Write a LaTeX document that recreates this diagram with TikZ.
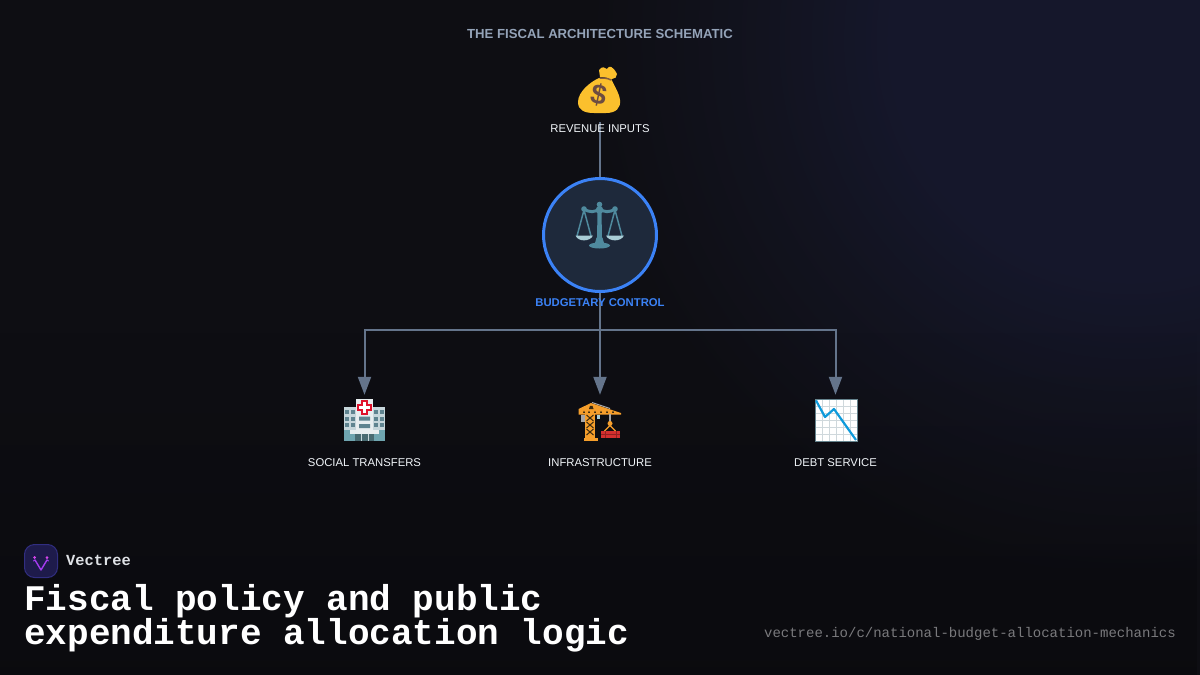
\documentclass[tikz,border=0pt]{standalone}
\usepackage{fontspec}
\setmainfont{Liberation Sans}
\newfontfamily\monof{Liberation Mono}
\usetikzlibrary{arrows.meta,fadings,calc}
\definecolor{bgbase}{HTML}{0E0E13}
\definecolor{glowA}{HTML}{15172B}
\definecolor{glowB}{HTML}{12131F}
\definecolor{edgec}{HTML}{64748B}
\definecolor{ctrlblue}{HTML}{3B82F6}
\definecolor{ctrlfill}{HTML}{1E293B}
\definecolor{titlec}{HTML}{94A3B8}
\definecolor{labelc}{HTML}{F1F5F9}
\definecolor{bag}{HTML}{FBC02D}
\definecolor{bagd}{HTML}{6D4C41}
\definecolor{scalec}{HTML}{4F8A9E}
\definecolor{scalel}{HTML}{A9CDD6}
\definecolor{crane}{HTML}{F59E2B}
\definecolor{craned}{HTML}{3A2A10}
\definecolor{loadred}{HTML}{D32F2F}
\definecolor{hospw}{HTML}{E8EEF0}
\definecolor{hospg}{HTML}{C6D6DB}
\definecolor{hospt}{HTML}{6FA5B0}
\definecolor{hospwin}{HTML}{5F8490}
\definecolor{crossr}{HTML}{E0112B}
\definecolor{chartg}{HTML}{CFD8DC}
\definecolor{chartb}{HTML}{0E9ADB}
\definecolor{logof}{HTML}{1E1B4B}
\definecolor{logos}{HTML}{312E81}
\definecolor{logop}{HTML}{A33BEF}
\definecolor{logod}{HTML}{D946EF}
\pgfdeclareradialshading{bgglow}{\pgfpoint{0bp}{0bp}}{color(0bp)=(glowA); color(11bp)=(glowA); color(17bp)=(glowB); color(25bp)=(bgbase); color(50bp)=(bgbase)}
\pgfdeclarelayer{bg}
\pgfdeclarelayer{edges}
\pgfsetlayers{bg,edges,main}
\tikzset{
  lbl/.style={font=\fontsize{11.3}{12}\selectfont,text=labelc,inner sep=2pt,text height=8pt,text depth=0pt},
  iconbox/.style={minimum size=50pt,inner sep=0pt},
  edgeline/.style={draw=edgec,line width=2pt},
  arrowed/.style={edgeline,-{Triangle[length=18pt,width=13pt,fill=edgec]}},
  ctrlnode/.style={circle,draw=ctrlblue,fill=ctrlfill,line width=3pt,minimum size=113pt,inner sep=0pt}
}
\begin{document}
\begin{tikzpicture}[x=1pt,y=-1pt]
\useasboundingbox (0,0) rectangle (1200,675);
\begin{pgfonlayer}{bg}
  \fill[bgbase] (0,0) rectangle (1200,675);
  \begin{scope}
    \clip (0,0) rectangle (1200,675);
    \shade[shading=bgglow] (1130,40) circle (540);
    \fill[black,fill opacity=0.22,path fading=north] (0,330) rectangle (1200,675);
  \end{scope}
\end{pgfonlayer}

% title
\node[font=\fontsize{13.15}{15}\selectfont\bfseries,text=titlec,inner sep=0pt] (title) at (600,34) {THE FISCAL ARCHITECTURE SCHEMATIC};

% nodes
\node[lbl] (revlabel) at (600,128) {REVENUE INPUTS};
\node[ctrlnode] (ctrl) at (600,235) {};
\node[lbl,text=ctrlblue,font=\fontsize{11.3}{12}\selectfont\bfseries] (ctrllabel) at (600,302) {BUDGETARY CONTROL};
\node[iconbox] (socialicon) at (364.5,420) {};
\node[iconbox] (infraicon) at (600,420) {};
\node[iconbox] (debticon) at (835.5,420) {};
\node[lbl] (sociallabel) at (364.5,462) {SOCIAL TRANSFERS};
\node[lbl] (infralabel) at (600,462) {INFRASTRUCTURE};
\node[lbl] (debtlabel) at (835.5,462) {DEBT SERVICE};
\coordinate (hub) at (600,329.5);

% connectors
\begin{pgfonlayer}{edges}
  \draw[edgeline] (revlabel.north) -- (ctrl.center);
  \draw[edgeline] (ctrl.center) -- (hub);
  \draw[arrowed] (hub) -| (socialicon.north);
  \draw[arrowed] (hub) -- (infraicon.north);
  \draw[arrowed] (hub) -| (debticon.north);
\end{pgfonlayer}

% money bag
\fill[bag] (599,78) .. controls (590,82) and (578,92) .. (578,102) .. controls (578,110) and (584,113) .. (594,113) -- (606,113) .. controls (616,113) and (621,108) .. (620,100) .. controls (619,92) and (613,84) .. (611,78) -- cycle;
\fill[bag] (599,70) .. controls (602,66) and (605,67) .. (607,69) .. controls (609,65) and (613,66) .. (617,74) .. controls (617,77) and (615,79) .. (612,79) .. controls (608,78) and (604,77) .. (600,77) -- cycle;
\draw[bagd!85!bag,line width=1.5pt,line cap=round] (600,78) .. controls (603,78) and (608,78) .. (611,80);
\node[font=\fontsize{28}{28}\selectfont\bfseries,text=bagd,rotate=-12,inner sep=0pt] (dollar) at (598.7,95) {\$};

% scales
\begin{scope}[line cap=round,line join=round]
  \draw[scalec,line width=1.5pt] (584,210) -- (577,236) (584,210) -- (591,236);
  \draw[scalec,line width=1.5pt] (615,210) -- (608,236) (615,210) -- (622,236);
  \draw[scalec,line width=3pt] (584,209) .. controls (590,213) and (595,212) .. (599.5,209) .. controls (604,212) and (609,213) .. (615,209);
  \fill[scalec] (584,209) circle (2.8) (615,209) circle (2.8) (599.5,204.5) circle (2.8) (599.5,210) circle (3.8);
  \fill[scalec] (597.5,207) -- (601.5,207) -- (602,243) -- (597,243) -- cycle;
  \fill[scalec] (599.5,245.5) ellipse (10.5 and 3);
  \fill[scalec] (594.5,245) -- (604.5,245) -- (602.5,237.5) -- (596.5,237.5) -- cycle;
  \fill[scalel] (575.5,235.5) .. controls (578,242) and (590,242) .. (593,235.5) -- cycle;
  \fill[scalel] (606,235.5) .. controls (609,242) and (621,242) .. (624,235.5) -- cycle;
\end{scope}

% hospital
\fill[hospg] (344,407) rectangle (385,441);
\fill[hospt] (344,430) rectangle (385,441);
\fill[hospw] (356,399) rectangle (373,430);
\fill[hospw] (350,430) rectangle (378.5,433.5);
\fill[hospt!65!black] (355,433.5) rectangle (373.5,441);
\draw[hospg,line width=1pt] (361,433.5) -- (361,441) (368,433.5) -- (368,441);
\foreach \wx in {345,351}{\foreach \wy in {410,416.7,423.3}{\fill[hospwin] (\wx,\wy) rectangle +(4.2,4);}}
\foreach \wx in {374,380}{\foreach \wy in {410,416.7,423.3}{\fill[hospwin] (\wx,\wy) rectangle +(4.2,4);}}
\fill[hospwin] (359,416.5) rectangle (370,420.5) (359,424) rectangle (370,428);
\draw[crossr,line width=6.5pt] (364.5,400) -- (364.5,415) (357.3,407.5) -- (371.7,407.5);
\draw[white,line width=2.6pt] (364.5,402) -- (364.5,413) (359.3,407.5) -- (369.7,407.5);

% crane
\begin{scope}[line join=round]
  \draw[gray!70,line width=1pt] (592,402.5) -- (610,408.5);
  \fill[gray!70] (581,415) rectangle (586,421.5);
  \fill[scalel] (597,415) rectangle (600,419);
  \fill[crane] (578.5,409) -- (591,403) -- (621,413) -- (621,414.7) -- (578.5,414.7) -- cycle;
  \foreach \jx in {583,588,594,600,606,612}{\fill[craned] (\jx,412.8) -- (\jx+2,412.8) -- (\jx+1,410.6) -- cycle;}
  \fill[craned] (590,405.8) -- (592.5,405.8) -- (593.5,409) -- (589,409) -- cycle;
  \fill[crane] (585,414) rectangle (595,438);
  \foreach \cy in {415,422,429}{\draw[craned,line width=1pt] (586.5,\cy) -- (593.5,\cy+6) (593.5,\cy) -- (586.5,\cy+6);}
  \fill[crane] (584,437.5) rectangle (598,441);
  \draw[gray!70,line width=1.3pt] (610,414) -- (610,424);
  \fill[crane] (610,423.5) circle (2.5);
  \draw[crane,line width=1.3pt] (604.5,431) -- (610,425.5) -- (615.5,431);
  \fill[loadred] (601,431) rectangle (620,438);
  \draw[loadred!70!black,line width=0.7pt] (601,434.5) -- (620,434.5) (605,431) -- (605,438) (616,431) -- (616,438);
\end{scope}

% chart
\fill[white] (815,399) rectangle (857,441);
\foreach \gx in {822,829,836,843,850}{\draw[chartg,line width=0.9pt] (\gx,399) -- (\gx,441);}
\foreach \gy in {406,413,420,427,434}{\draw[chartg,line width=0.9pt] (815,\gy) -- (857,\gy);}
\draw[hospwin!80!gray,line width=0.9pt] (815,399) rectangle (857,441);
\draw[chartb,line width=2.2pt,line join=round] (816,400.5) -- (825,417) -- (834,409) -- (856,440);

% footer
\node[draw=logos,fill=logof,line width=1pt,rounded corners=10pt,minimum size=33pt,inner sep=0pt] (logo) at (41,561) {};
\draw[logop,line width=1.4pt,line cap=round,line join=round] (35,560) -- (41,570) -- (47,560);
\draw[logop,line width=1pt,line cap=round] (35,560) -- (33.5,561) (47,560) -- (48.5,561);
\fill[logod] (34.7,557.5) circle (1.5) (47,557.5) circle (1.5);
\node[anchor=west,font=\monof\bfseries\fontsize{15.4}{18}\selectfont,text=labelc!92!black,inner sep=0pt] (brand) at (66,560.3) {Vectree};
\node[anchor=north west,align=left,font=\monof\bfseries\fontsize{36}{33}\selectfont,text=white,inner sep=0pt] (heading) at (24,584) {Fiscal policy and public\\expenditure allocation logic};
\node[anchor=east,font=\monof\fontsize{14}{16}\selectfont,text=white!45!bgbase,inner sep=0pt] (url) at (1176,633.5) {vectree.io/c/national-budget-allocation-mechanics};
\end{tikzpicture}
\end{document}
